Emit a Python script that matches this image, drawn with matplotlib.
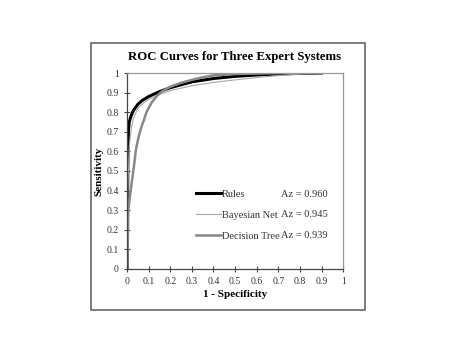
import matplotlib.pyplot as plt
from matplotlib.patches import Rectangle

plt.rcParams['font.family'] = ['Liberation Serif', 'DejaVu Serif']

# ROC curves
rules_fpr = [0, 0.002, 0.004, 0.006, 0.01, 0.02, 0.03, 0.05, 0.07, 0.1, 0.15, 0.2,
             0.3, 0.4, 0.5, 0.6, 0.7, 0.8, 0.9]
rules_tpr = [0, 0.3, 0.55, 0.7, 0.75, 0.785, 0.81, 0.84, 0.86, 0.88, 0.905, 0.925,
             0.955, 0.972, 0.983, 0.99, 0.995, 0.998, 1.0]

bayes_fpr = [0, 0.002, 0.005, 0.01, 0.02, 0.03, 0.05, 0.08, 0.1, 0.15, 0.2, 0.3,
             0.4, 0.5, 0.6, 0.7, 0.8, 0.9]
bayes_tpr = [0, 0.2, 0.45, 0.62, 0.72, 0.77, 0.82, 0.85, 0.865, 0.89, 0.91, 0.935,
             0.952, 0.965, 0.977, 0.987, 0.995, 1.0]

tree_fpr = [0, 0.003, 0.006, 0.012, 0.017, 0.023, 0.029, 0.035, 0.04, 0.045, 0.055,
            0.065, 0.075, 0.09, 0.114, 0.14, 0.16, 0.2, 0.25, 0.3, 0.35, 0.4, 0.5,
            0.7, 0.9]
tree_tpr = [0, 0.12, 0.3, 0.36, 0.40, 0.45, 0.50, 0.55, 0.60, 0.63, 0.68, 0.72, 0.75,
            0.80, 0.85, 0.885, 0.905, 0.93, 0.95, 0.965, 0.978, 0.988, 0.995, 1.0,
            1.0]

names = ['Rules', 'Bayesian Net', 'Decision Tree']
az_values = [0.960, 0.945, 0.939]
ticks = [i / 10 for i in range(11)]
tick_labels = ['0', '0.1', '0.2', '0.3', '0.4', '0.5', '0.6', '0.7', '0.8', '0.9', '1']

fig = plt.figure(figsize=(4.74, 3.58), dpi=100)
ax = fig.add_axes([0.268, 0.249, 0.456, 0.547])

h1, = ax.plot(rules_fpr, rules_tpr, color='black', lw=2.2, label=names[0])
h2, = ax.plot(bayes_fpr, bayes_tpr, color='#a8a8a8', lw=0.8, label=names[1])
h3, = ax.plot(tree_fpr, tree_tpr, color='#888888', lw=1.8, label=names[2])

ax.set_xlim(0, 1)
ax.set_ylim(0, 1)
ax.set_xticks(ticks)
ax.set_xticklabels(tick_labels)
ax.set_yticks(ticks)
ax.set_yticklabels(tick_labels)
ax.tick_params(direction='inout', length=4, width=0.8, labelsize=7,
               labelcolor='#333333', color='#444444', pad=4)
ax.tick_params(axis='x', pad=4)

for s in ['left', 'bottom']:
    ax.spines[s].set_color('#444444')
    ax.spines[s].set_linewidth(0.9)
for s in ['top', 'right']:
    ax.spines[s].set_color('#999999')
    ax.spines[s].set_linewidth(0.9)

ax.set_xlabel('1 - Specificity', fontsize=8, fontweight='bold', labelpad=3)
ax.set_ylabel('Sensitivity', fontsize=8, fontweight='bold', labelpad=2)

leg = ax.legend(handles=[h1, h2, h3], loc='upper left', bbox_to_anchor=(0.30, 0.425),
                frameon=False, fontsize=7.5, handlelength=2.4, handletextpad=0.1,
                labelspacing=1.1, borderaxespad=0)
for t in leg.get_texts():
    t.set_color('#333333')

for y, az in zip([0.38, 0.277, 0.172], az_values):
    ax.text(0.93, y, f'Az = {az:.3f}', ha='right', va='center', fontsize=7.5,
            color='#333333')

fig.text(234 / 474, 1 - 57 / 358, 'ROC Curves for Three Expert Systems',
         ha='center', va='center', fontsize=9.2, fontweight='bold')

fig.add_artist(Rectangle((91 / 474, 1 - 310 / 358), (365 - 91) / 474, (310 - 43) / 358,
                         transform=fig.transFigure, fill=False, ec='#666666', lw=1.2))

fig.savefig('out.png', dpi=100)
